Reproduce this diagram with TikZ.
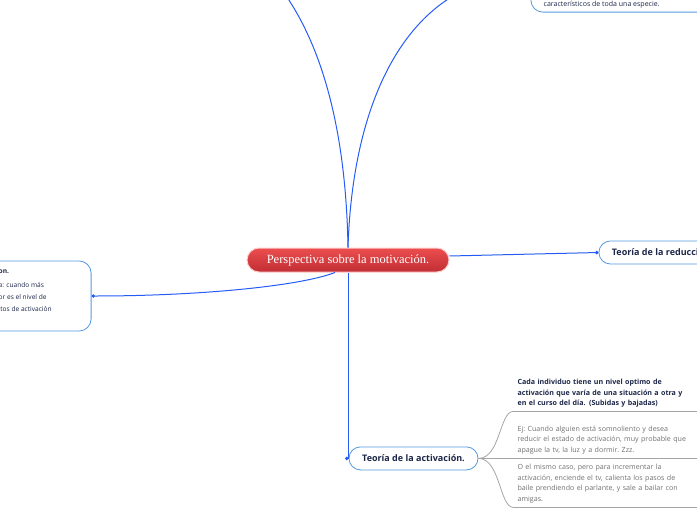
\documentclass[tikz,border=0pt]{standalone}
\usepackage{fontspec}
\setmainfont{Liberation Serif}
\setsansfont{Open Sans}
\usetikzlibrary{arrows.meta, positioning}

\definecolor{linkblue}{RGB}{37,92,245}
\definecolor{boxblue}{RGB}{84,152,222}
\definecolor{navy}{RGB}{28,38,72}
\definecolor{greytext}{RGB}{112,112,112}
\definecolor{greyline}{RGB}{165,165,165}
\definecolor{redtop}{RGB}{236,78,78}
\definecolor{redbottom}{RGB}{192,46,52}

\begin{document}
\begin{tikzpicture}[
        x=1pt, y=-1pt,
        central/.style={rectangle, rounded corners=12pt, draw=red!20, line width=1pt,
                        top color=redtop, bottom color=redbottom, text=white,
                        font=\rmfamily\fontsize{12.5}{14}\selectfont,
                        minimum width=202pt, minimum height=24pt, inner sep=0pt},
        topic/.style={rectangle, rounded corners=11.5pt, draw=boxblue, line width=0.8pt,
                        fill=white, text=navy, font=\sffamily\bfseries\fontsize{9}{11}\selectfont,
                        minimum height=23pt, inner xsep=13pt},
        notebox/.style={rectangle, rounded corners=12pt, draw=boxblue, line width=0.8pt,
                        fill=white, minimum width=200pt},
        notetext/.style={text=navy, font=\sffamily\fontsize{7}{12}\selectfont,
                        align=left, inner sep=0pt},
        subtopic/.style={text width=176pt, align=left, inner xsep=4pt, inner ysep=4pt,
                        font=\sffamily\fontsize{7.1}{10.7}\selectfont\frenchspacing},
        link/.style={draw=linkblue, line width=1pt},
        dotlink/.style={link, -{Circle[length=3.5pt]}},
        subline/.style={draw=greyline, line width=0.8pt}
    ]
        \useasboundingbox (0,0) rectangle (697,520);

        \node[central] (central) at (348,260) {Perspectiva sobre la motivación.};

        \node[topic, right=149pt of central, yshift=7.5pt] (reduccion) {Teoría de la reducci};
        \node[topic, below=174pt of central, xshift=65.5pt, minimum width=129pt] (activacion) {Teoría de la activación.};

        \node[notebox, minimum height=70pt, left=155pt of central, yshift=-36pt] (motivbox) {};
        \node[notetext, font=\sffamily\fontsize{6.6}{12}\selectfont, anchor=base west] (motivtext)
            at ([xshift=-93pt, yshift=-50.5pt]motivbox.north east)
            {\textbf{on.}\\[2pt] a: cuando más\\ or es el nivel de\\ ltos de activación};

        \node[notebox, minimum height=40pt, above right=235pt and 81pt of central] (especiebox) {};
        \node[notetext, anchor=base west] (especietext) at ([xshift=13pt, yshift=6.5pt]especiebox.south west)
            {característicos de toda una especie.};

        \node[subtopic, anchor=south west, text=navy, font=\sffamily\bfseries\fontsize{7.1}{10.5}\selectfont] (optimo)
            at ([xshift=35pt, yshift=47pt]activacion.east)
            {Cada individuo tiene un nivel optimo de\\ activación  que varía de una situación a otra y\\ en el curso del día. (Subidas y bajadas)};
        \node[subtopic, anchor=south west, text=greytext] (ejemplo)
            at ([xshift=35pt]activacion.east)
            {Ej: Cuando alguien está somnoliento y desea\\ reducir el estado de activación, muy probable que\\ apague la tv, la luz y a dormir. Zzz.};
        \node[subtopic, anchor=south west, text=greytext] (caso)
            at ([xshift=35pt, yshift=-49pt]activacion.east)
            {O el mismo caso, pero para incrementar la\\ activación, enciende el tv, calienta los pasos de\\ baile prendiendo el parlante, y sale a bailar con\\ amigas.};

        \coordinate (arribaizq) at (282,-10);
        \coordinate (arribader) at (460,-8);

        \draw[link] (central.north) .. controls (346,130) and (322,45) .. (arribaizq);
        \draw[link] (central.north) .. controls (352,120) and (392,28) .. (arribader);
        \draw[dotlink] ([yshift=4pt]central.east) -- (reduccion.west);
        \draw[dotlink] ([xshift=-13pt]central.south) .. controls (300,286) and (200,296) .. (motivbox.east);
        \draw[dotlink] (central.south) |- (activacion.west);

        \draw[subline] (activacion.east) .. controls ([xshift=22pt]activacion.east) and ([xshift=-14pt]optimo.south west) .. (optimo.south west) -- (optimo.south east);
        \draw[subline] (activacion.east) -- (ejemplo.south west) -- (ejemplo.south east);
        \draw[subline] (activacion.east) .. controls ([xshift=22pt]activacion.east) and ([xshift=-14pt]caso.south west) .. (caso.south west) -- (caso.south east);
    \end{tikzpicture}
\end{document}
